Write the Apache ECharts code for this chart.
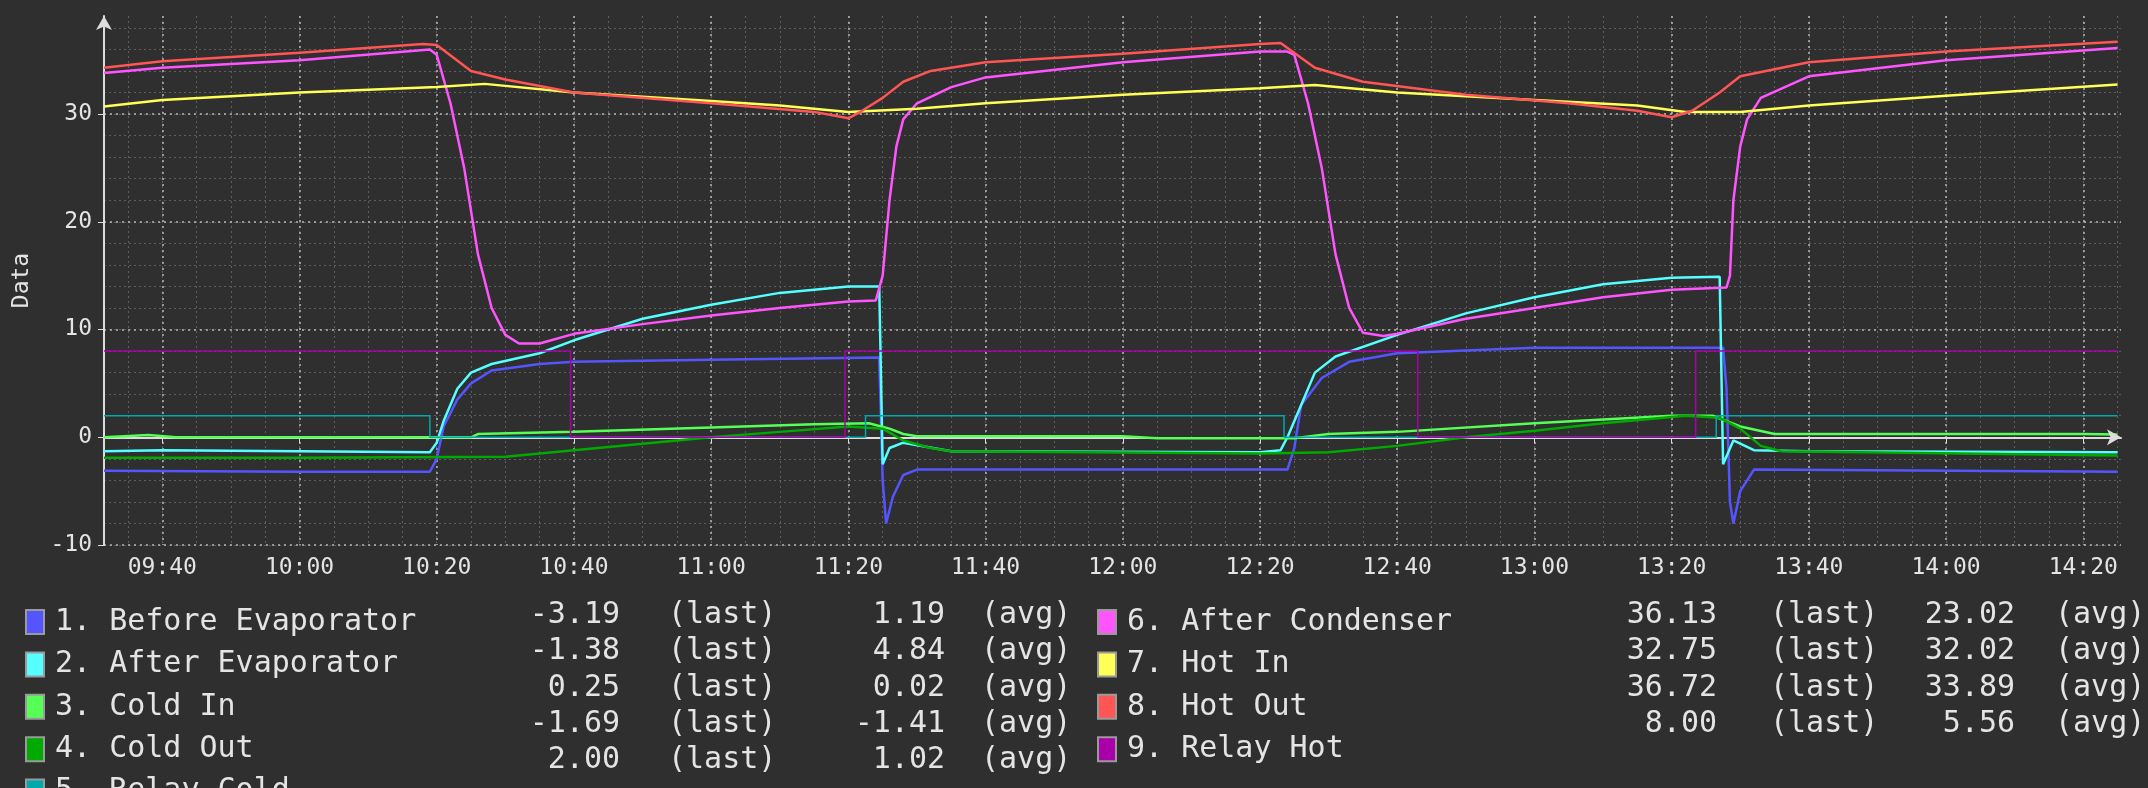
<!DOCTYPE html>
<html>
<head>
<meta charset="utf-8">
<script src="https://cdn.jsdelivr.net/npm/echarts@6/dist/echarts.min.js"></script>
<style>
  html, body { margin: 0; padding: 0; background: #2f2f2f; }
  #chart { width: 2148px; height: 788px; }
</style>
</head>
<body>
<div id="chart"></div>
<script>
// values, [time, value]
var beforeEvap = [['9:31.5',-3.1],['10:00',-3.2],['10:19',-3.2],['10:20',-2],['10:21',1],['10:23',3.5],['10:25',5],['10:28',6.2],['10:35',6.8],['10:40',7.0],['11:00',7.2],['11:24.5',7.4],['11:25',-4],['11:25.5',-8],['11:26.5',-5.5],['11:28',-3.5],['11:30',-3.0],['12:24',-3.0],['12:25',-1],['12:26',3],['12:29',5.5],['12:33',7],['12:40',7.8],['13:00',8.3],['13:27.5',8.3],['13:28',4.5],['13:28.5',-6],['13:29',-8],['13:30',-5],['13:32',-3.0],['14:25',-3.19]];
var afterEvap = [['9:31.5',-1.3],['9:40',-1.2],['10:00',-1.3],['10:19',-1.4],['10:20',-0.5],['10:21',1.5],['10:23',4.5],['10:25',6],['10:28',6.8],['10:35',7.8],['10:40',9],['10:50',11],['11:00',12.3],['11:10',13.4],['11:20',14],['11:24.5',14],['11:25',-2.5],['11:26',-1],['11:28',-0.5],['11:35',-1.3],['12:20',-1.4],['12:23',-1.2],['12:24',0],['12:26',3],['12:28',6],['12:31',7.5],['12:40',9.5],['12:50',11.5],['13:00',13],['13:10',14.2],['13:20',14.8],['13:27',14.9],['13:27.5',-2.5],['13:29',-0.3],['13:32',-1.2],['13:40',-1.3],['14:25',-1.38]];
var coldIn = [['9:31.5',0],['9:38',0.2],['9:42',0],['10:25',0],['10:26',0.3],['10:40',0.5],['11:00',0.9],['11:15',1.2],['11:23',1.3],['11:26',0.8],['11:28',0.3],['11:30',0.1],['12:00',0.1],['12:05',-0.1],['12:25',-0.1],['12:30',0.3],['12:40',0.5],['13:00',1.3],['13:20',2.0],['13:26',2.0],['13:30',1.0],['13:35',0.3],['14:20',0.3],['14:25',0.25]];
var coldOut = [['9:31.5',-1.9],['10:00',-1.9],['10:30',-1.8],['10:40',-1.2],['10:50',-0.6],['11:00',0],['11:10',0.5],['11:20',1.0],['11:25',0.8],['11:28',-0.3],['11:32',-1.0],['11:35',-1.3],['12:20',-1.5],['12:30',-1.4],['12:40',-0.8],['12:50',0],['13:00',0.6],['13:10',1.3],['13:22',2.0],['13:27',1.8],['13:30',0.8],['13:33',-0.8],['13:36',-1.3],['14:25',-1.69]];
var relayCold = [['9:31.5',2],['10:19',0],['11:22.5',2],['12:23.5',0],['13:26.5',2],['14:25',2]];
var afterCond = [['9:31.5',33.8],['9:40',34.3],['10:00',35.0],['10:19',36.0],['10:20',35.5],['10:22',31],['10:24',25],['10:26',17],['10:28',12],['10:30',9.5],['10:32',8.7],['10:35',8.7],['10:40',9.6],['10:50',10.5],['11:00',11.3],['11:10',12],['11:20',12.6],['11:24',12.7],['11:25',15],['11:26',22],['11:27',27],['11:28',29.5],['11:30',31],['11:35',32.5],['11:40',33.4],['12:00',34.8],['12:20',35.8],['12:24',35.8],['12:25',35.5],['12:27',31],['12:29',25],['12:31',17],['12:33',12],['12:35',9.7],['12:38',9.4],['12:40',9.6],['12:50',11],['13:00',12],['13:10',13],['13:20',13.7],['13:28',13.9],['13:28.5',15],['13:29',22],['13:30',27],['13:31',29.5],['13:33',31.5],['13:40',33.5],['14:00',35],['14:25',36.13]];
var hotIn = [['9:31.5',30.7],['9:40',31.3],['10:00',32.0],['10:20',32.5],['10:27',32.8],['10:40',32],['11:00',31.2],['11:10',30.8],['11:20',30.2],['11:30',30.5],['11:40',31.0],['12:00',31.8],['12:20',32.4],['12:28',32.7],['12:40',32],['13:00',31.3],['13:15',30.8],['13:22',30.2],['13:30',30.2],['13:40',30.8],['14:00',31.7],['14:25',32.75]];
var hotOut = [['9:31.5',34.3],['9:40',34.9],['10:00',35.7],['10:18',36.5],['10:20',36.4],['10:25',34],['10:30',33.2],['10:40',32],['11:00',31],['11:15',30.2],['11:20',29.6],['11:22',30.3],['11:25',31.5],['11:28',33],['11:32',34],['11:40',34.8],['12:00',35.6],['12:20',36.5],['12:23',36.6],['12:28',34.3],['12:35',33],['12:50',31.8],['13:05',31],['13:15',30.3],['13:20',29.7],['13:23',30.3],['13:27',32],['13:30',33.5],['13:40',34.8],['14:00',35.8],['14:25',36.72]];
var relayHot = [['9:31.5',8],['10:39.5',0],['11:19.5',8],['12:43',0],['13:23.5',8],['14:25',8]];

var names = ['1. Before Evaporator','2. After Evaporator','3. Cold In','4. Cold Out','5. Relay Cold',
             '6. After Condenser','7. Hot In','8. Hot Out','9. Relay Hot'];
var colors = ['#5555ff','#55ffff','#55ff55','#00aa00','#00aaaa','#ff55ff','#ffff55','#ff5555','#aa00aa'];
var lastVals = ['-3.19','-1.38','0.25','-1.69','2.00','36.13','32.75','36.72','8.00'];
var avgVals = ['1.19','4.84','0.02','-1.41','1.02','23.02','32.02','33.89','5.56'];
var allData = [beforeEvap, afterEvap, coldIn, coldOut, relayCold, afterCond, hotIn, hotOut, relayHot];
var stepped = [false,false,false,false,true,false,false,false,true];

var xLabels = [580,600,620,640,660,680,700,720,740,760,780,800,820,840,860];
var yLabels = [-10,0,10,20,30];

function toMin(s) {
  var p = s.split(':');
  return Number(p[0]) * 60 + Number(p[1]);
}
function fmtTime(v) {
  var h = Math.floor(v / 60), m = Math.round(v % 60);
  return (h < 10 ? '0' : '') + h + ':' + (m < 10 ? '0' : '') + m;
}

var xMinor = [], yMinor = [];
for (var t = 575; t <= 865; t += 5) xMinor.push(t);
for (var v = -10; v <= 38; v += 2) yMinor.push(v);

var FONT = 'DejaVu Sans Mono';
var TXT = '#e4e4e4';
var LFONT = 30;

var series = allData.map(function (d, i) {
  return {
    name: names[i],
    type: 'line',
    step: stepped[i] ? 'end' : false,
    showSymbol: false,
    symbol: 'none',
    lineStyle: { width: stepped[i] ? 1.5 : 2.5, color: colors[i] },
    itemStyle: { color: colors[i], borderColor: '#9a9a9a', borderWidth: 2 },
    data: d.map(function (p) { return [toMin(p[0]), p[1]]; })
  };
});

// value columns of the legend: [last right edge, (last) left, avg right edge, (avg) left]
var legendCols = [[620, 668, 945, 981], [1717, 1770, 2015, 2055]];
var rowTop = 615, rowStep = 36.4;
var graphics = [];
names.forEach(function (n, i) {
  var c = legendCols[i < 5 ? 0 : 1];
  var y = rowTop + (i % 5) * rowStep;
  var st = { fill: TXT, fontFamily: FONT, fontSize: LFONT, textVerticalAlign: 'middle' };
  graphics.push({ type: 'text', left: null, x: c[0], y: y, style: Object.assign({ text: lastVals[i], textAlign: 'right' }, st) });
  graphics.push({ type: 'text', x: c[1], y: y, style: Object.assign({ text: '(last)', textAlign: 'left' }, st) });
  graphics.push({ type: 'text', x: c[2], y: y, style: Object.assign({ text: avgVals[i], textAlign: 'right' }, st) });
  graphics.push({ type: 'text', x: c[3], y: y, style: Object.assign({ text: '(avg)', textAlign: 'left' }, st) });
});

function legendOpt(list, left) {
  return {
    data: list,
    orient: 'vertical',
    left: left,
    top: 602,
    height: 220,
    itemWidth: 18,
    itemHeight: 24,
    itemGap: 12.4,
    icon: 'rect',
    selectedMode: false,
    textStyle: { color: TXT, fontFamily: FONT, fontSize: LFONT, lineHeight: 24, padding: [0, 0, 0, 6] }
  };
}

var chart = echarts.init(document.getElementById('chart'));
var option = {
  animation: false,
  backgroundColor: '#2f2f2f',
  grid: { left: 104, right: 27, top: 16, bottom: 243 },
  xAxis: [{
    type: 'value',
    min: 571.5,
    max: 865.5,
    axisLine: { show: true, symbol: ['none', 'arrow'], symbolSize: [12, 14], lineStyle: { color: '#dddddd', width: 2 } },
    axisTick: { show: true, customValues: xLabels, length: 6, lineStyle: { color: '#dddddd' } },
    axisLabel: { customValues: xLabels, formatter: fmtTime, color: TXT, fontFamily: FONT, fontSize: 23, margin: 12 },
    splitLine: { show: true, lineStyle: { color: '#b8b8b8', type: [2, 4], width: 1.5 } },
    z: 3
  }, {
    type: 'value',
    min: 571.5,
    max: 865.5,
    position: 'bottom',
    axisLine: { show: false },
    axisTick: { show: false, customValues: xMinor },
    axisLabel: { show: false, customValues: xMinor },
    splitLine: { show: true, lineStyle: { color: '#5e5e5e', type: [2, 3], width: 1 } },
    z: 1
  }],
  yAxis: [{
    type: 'value',
    min: -10,
    max: 39.1,
    name: 'Data',
    nameLocation: 'middle',
    nameGap: 70,
    nameTextStyle: { color: TXT, fontFamily: FONT, fontSize: 23 },
    axisLine: { show: true, symbol: ['none', 'arrow'], symbolSize: [12, 14], lineStyle: { color: '#dddddd', width: 2 } },
    axisTick: { show: true, customValues: yLabels, length: 6, lineStyle: { color: '#dddddd' } },
    axisLabel: { customValues: yLabels, color: TXT, fontFamily: FONT, fontSize: 23, margin: 12 },
    splitLine: { show: true, lineStyle: { color: '#b8b8b8', type: [2, 4], width: 1.5 } },
    z: 3
  }, {
    type: 'value',
    min: -10,
    max: 39.1,
    position: 'left',
    axisLine: { show: false },
    axisTick: { show: false, customValues: yMinor },
    axisLabel: { show: false, customValues: yMinor },
    splitLine: { show: true, lineStyle: { color: '#5e5e5e', type: [2, 3], width: 1 } },
    z: 1
  }],
  legend: [legendOpt(names.slice(0, 5), 20), legendOpt(names.slice(5), 1092)],
  graphic: graphics,
  series: series
};
chart.setOption(option);
</script>
</body>
</html>
